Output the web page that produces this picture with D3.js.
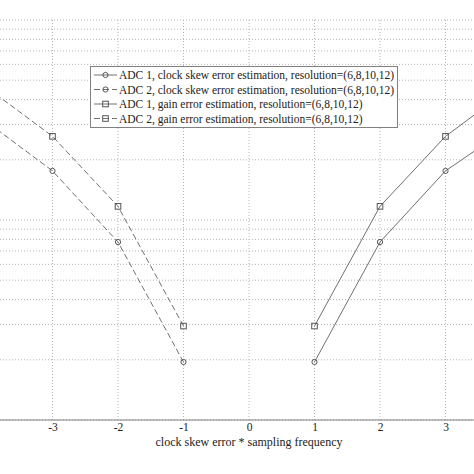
<!DOCTYPE html>
<html>
<head>
<meta charset="utf-8">
<script src="https://cdn.jsdelivr.net/npm/d3@7"></script>
<style>
  body { margin: 0; background: #fff; }
  svg { display: block; font-family: "Liberation Serif", "DejaVu Serif", serif; }
</style>
</head>
<body>
<svg id="chart" width="474" height="474"></svg>
<script>
// resolution steps 6,8,10,12 plotted at |x| = 1..4
var xAdc1 = [1, 2, 3, 4];
var xAdc2 = [-1, -2, -3, -4];
var clockAdc1 = [1.95, 7.76, 17.6, 29.5];
var clockAdc2 = [1.95, 7.76, 17.6, 30.9];
var gainAdc1 = [2.95, 11.7, 26.2, 45.9];
var gainAdc2 = [2.95, 11.7, 26.2, 45.9];
var xTicks = [-3, -2, -1, 0, 1, 2, 3];
var legendLabels = [
  "ADC 1, clock skew error estimation, resolution=(6,8,10,12)",
  "ADC 2, clock skew error estimation, resolution=(6,8,10,12)",
  "ADC 1, gain error estimation, resolution=(6,8,10,12)",
  "ADC 2, gain error estimation, resolution=(6,8,10,12)"
];

var svg = d3.select("#chart");

var x = d3.scaleLinear().domain([-4, 4]).range([-13, 511]);
var y = d3.scaleLog().domain([1, 100]).range([420, 20]);

// grid
var grid = svg.append("g");
grid.selectAll(".hg")
  .data(y.ticks())
  .enter().append("line")
  .attr("x1", 0).attr("x2", 474)
  .attr("y1", function(d) { return y(d); })
  .attr("y2", function(d) { return y(d); })
  .attr("stroke", "#b4b4b4")
  .attr("stroke-dasharray", "1,2");
grid.selectAll(".vg")
  .data(xTicks)
  .enter().append("line")
  .attr("x1", function(d) { return x(d); })
  .attr("x2", function(d) { return x(d); })
  .attr("y1", y(100)).attr("y2", y(1))
  .attr("stroke", "#b4b4b4")
  .attr("stroke-dasharray", "1,2");

// x axis
var xAxis = svg.append("g")
  .attr("transform", "translate(0," + y(1) + ")")
  .call(d3.axisBottom(x).tickValues(xTicks).tickSize(0).tickPadding(3)
    .tickFormat(function(d) { return String(d); }));
xAxis.select(".domain").remove();
xAxis.selectAll("text")
  .attr("font-size", 11.5)
  .attr("fill", "#222")
  .attr("font-family", "Liberation Serif");
svg.append("line")
  .attr("x1", 0).attr("x2", 474)
  .attr("y1", y(1)).attr("y2", y(1))
  .attr("stroke", "#808080");

svg.append("text")
  .attr("x", x(0)).attr("y", 445.5)
  .attr("text-anchor", "middle")
  .attr("font-size", 12)
  .attr("fill", "#222")
  .text("clock skew error * sampling frequency");

var series = [
  { xs: xAdc1, ys: clockAdc1, dash: null, shape: "circle" },
  { xs: xAdc2, ys: clockAdc2, dash: "6,3", shape: "circle" },
  { xs: xAdc1, ys: gainAdc1, dash: null, shape: "square" },
  { xs: xAdc2, ys: gainAdc2, dash: "6,3", shape: "square" }
];

var line = d3.line()
  .x(function(d) { return x(d[0]); })
  .y(function(d) { return y(d[1]); });

function drawMarker(g, shape, cx, cy) {
  if (shape == "circle") {
    g.append("circle").attr("cx", cx).attr("cy", cy).attr("r", 2.6)
      .attr("fill", "none").attr("stroke", "#555");
  } else {
    g.append("rect").attr("x", cx - 2.8).attr("y", cy - 2.8)
      .attr("width", 5.6).attr("height", 5.6)
      .attr("fill", "none").attr("stroke", "#555");
  }
}

series.forEach(function(s) {
  var pts = s.xs.map(function(v, i) { return [v, s.ys[i]]; });
  svg.append("path")
    .datum(pts)
    .attr("d", line)
    .attr("fill", "none")
    .attr("stroke", "#707070")
    .attr("stroke-width", 1)
    .attr("stroke-dasharray", s.dash);
  var mg = svg.append("g");
  pts.forEach(function(p) { drawMarker(mg, s.shape, x(p[0]), y(p[1])); });
});

// legend
var lg = svg.append("g");
lg.append("rect")
  .attr("x", 90.5).attr("y", 66.5)
  .attr("width", 307).attr("height", 61)
  .attr("fill", "#fff")
  .attr("stroke", "#808080");
legendLabels.forEach(function(lab, i) {
  var cy = 75 + i * 14.5;
  lg.append("line")
    .attr("x1", 94).attr("x2", 117)
    .attr("y1", cy).attr("y2", cy)
    .attr("stroke", "#707070")
    .attr("stroke-dasharray", series[i].dash);
  drawMarker(lg, series[i].shape, 105.5, cy);
  lg.append("text")
    .attr("x", 119).attr("y", cy + 4)
    .attr("font-size", 11.5)
    .attr("fill", "#222")
    .text(lab);
});
</script>
</body>
</html>
